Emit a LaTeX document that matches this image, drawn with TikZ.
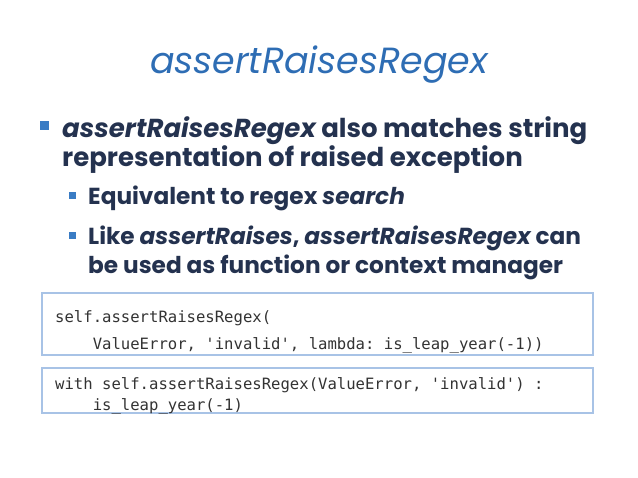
\documentclass[tikz,border=0pt]{standalone}
\usepackage{fontspec}
\setmainfont{Poppins}
\setmonofont{DejaVu Sans Mono}
\definecolor{titleblue}{HTML}{2E6DB4}
\definecolor{navy}{HTML}{24324F}
\definecolor{bulletblue}{HTML}{3A7CC4}
\definecolor{boxedge}{HTML}{A8C3E6}
\tikzset{
  txt/.style={anchor=base west, inner sep=0pt, text=navy, font=\bfseries\fontsize{#1}{#1}\selectfont},
  bul/.style={fill=bulletblue, minimum size=#1, inner sep=0pt},
  codebox/.style={draw=boxedge, line width=1.6pt, fill=white},
  code/.style={anchor=base west, inner sep=0pt, font=\ttfamily\fontsize{15.6}{15.6}\selectfont, text=black!80}
}
\begin{document}
\begin{tikzpicture}[x=1pt,y=-1pt]
\useasboundingbox (0,0) rectangle (638,478);
\node[anchor=base, text=titleblue, font=\itshape\fontsize{36.4}{36.4}\selectfont] (title) at (319,74) {assertRaisesRegex};
\node[bul=9pt] (b1) at (44,126) {};
\node[txt=26] (l1) at (62,138) {\itshape assertRaisesRegex\upshape{} also matches string};
\node[txt=26] (l2) at (62,167) {representation of raised exception};
\node[bul=7pt] (b2) at (72,196) {};
\node[txt=23.2] (l3) at (88,205) {Equivalent to regex \itshape search};
\node[bul=7pt] (b3) at (72,236) {};
\node[txt=23.2] (l4) at (88,245) {Like \itshape assertRaises\upshape, \itshape assertRaisesRegex\upshape{} can};
\node[txt=23.2] (l5) at (88,274) {be used as function or context manager};
\draw[codebox] (42,293) rectangle (593,355);
\node[code] (c1) at (55,323) {self.assertRaisesRegex(};
\node[code] (c2) at (55,350) {\ \ \ \ ValueError, 'invalid', lambda: is\_leap\_year(-1))};
\draw[codebox] (42,368) rectangle (593,413);
\node[code] (c3) at (55,390) {with self.assertRaisesRegex(ValueError, 'invalid') :};
\node[code] (c4) at (55,411) {\ \ \ \ is\_leap\_year(-1)};
\end{tikzpicture}
\end{document}
